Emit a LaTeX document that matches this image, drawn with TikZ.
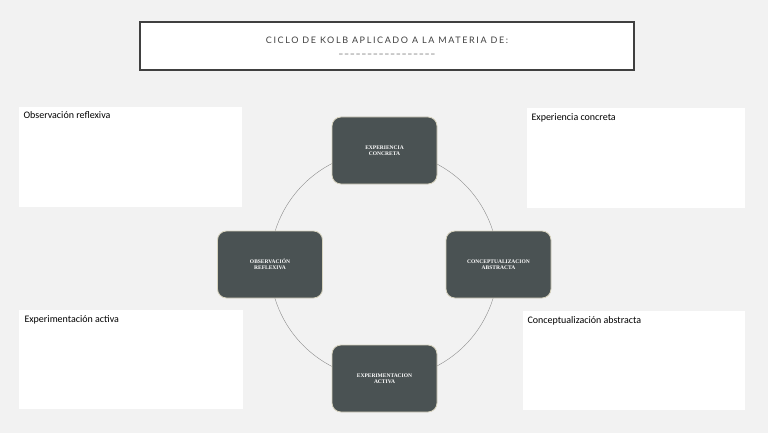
\documentclass[tikz,border=0pt]{standalone}
\usepackage{fontspec}
\setmainfont{Liberation Serif}
\newfontfamily\calib{Carlito}
\newfontfamily\titlef[LetterSpace=18]{Lato}
\definecolor{bg}{HTML}{F2F2F2}
\definecolor{nodef}{HTML}{4A5253}
\definecolor{nodeb}{HTML}{D8D4C0}
\begin{document}
\begin{tikzpicture}[x=1pt,y=-1pt,
  cyc/.style={draw=nodeb,line width=0.8pt,fill=nodef,rounded corners=9pt,minimum width=105pt,minimum height=67pt,align=center,text=white,font=\bfseries\fontsize{5.5}{6}\selectfont},
  wbox/.style={fill=white,draw=none},
  lab/.style={anchor=north west,font=\calib\fontsize{10}{12}\selectfont,text=black}]
\fill[bg] (0,0) rectangle (768,433);
\useasboundingbox (0,0) rectangle (768,433);
\node[draw=black!75,line width=1.5pt,fill=white,minimum width=494pt,minimum height=48pt,inner sep=0pt] (title) at (387,46) {};
\node[font=\titlef\fontsize{9}{11}\selectfont,text=black!75,align=center] (tt) at (387,46) {CICLO DE KOLB APLICADO A LA MATERIA DE:\\[-1pt]\_\_\_\_\_\_\_\_\_\_\_\_\_\_\_\_\_};
\draw[black!45,line width=0.4pt] (384,265) circle (114);
\fill[wbox] (19,107) rectangle (242,207);
\fill[wbox] (527,108) rectangle (745,208);
\fill[wbox] (19,310) rectangle (243,409);
\fill[wbox] (523,311) rectangle (745,410);
\node[lab] (l1) at (20,108) {Observación reflexiva};
\node[lab] (l2) at (528,110) {Experiencia concreta};
\node[lab] (l3) at (21,312) {Experimentación activa};
\node[lab] (l4) at (524,313) {Conceptualización abstracta};
\node[cyc] (ec) at (384.5,150.5) {EXPERIENCIA\\CONCRETA};
\node[cyc] (or) at (270,264.5) {OBSERVACIÓN\\REFLEXIVA};
\node[cyc] (ca) at (498.5,264.5) {CONCEPTUALIZACION\\ABSTRACTA};
\node[cyc] (ea) at (384.5,378.5) {EXPERIMENTACION\\ACTIVA};
\end{tikzpicture}
\end{document}
